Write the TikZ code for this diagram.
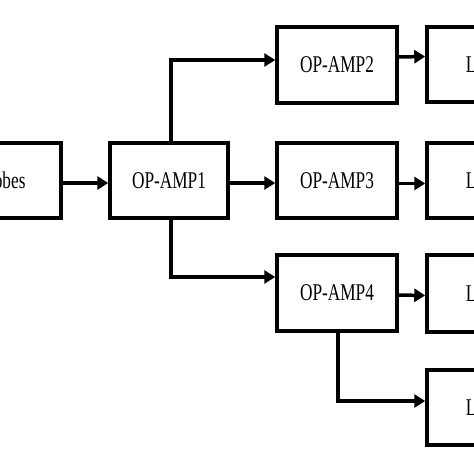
\documentclass[tikz,border=0pt]{standalone}
\usepackage{fontspec}
\setmainfont{Liberation Serif}
\newfontfamily\condfont[FakeStretch=0.72]{Liberation Serif}
\usetikzlibrary{arrows.meta}
\begin{document}
\begin{tikzpicture}[x=1pt,y=-1pt,
  blk/.style={draw=black,line width=3.5pt,minimum width=118pt,minimum height=75pt,inner sep=0pt,font=\condfont\fontsize{24}{26}\selectfont},
  conn/.style={line width=3.5pt,-{Triangle[length=11pt,width=13pt]}}]
\useasboundingbox (0,0) rectangle (474,474);
\clip (0,0) rectangle (474,474);
\fill[white] (0,0) rectangle (474,474);
\node[blk] (src) at (2,180.5) {Probes};
\node[blk] (op1) at (169,180.5) {OP-AMP1};
\node[blk,minimum width=120pt,minimum height=76pt] (op2) at (337,65) {OP-AMP2};
\node[blk,minimum width=120pt] (op3) at (337,180.5) {OP-AMP3};
\node[blk,minimum width=120pt,minimum height=76pt] (op4) at (337,293) {OP-AMP4};
\node[blk,minimum width=120pt] (led1) at (487,64.5) {LED1};
\node[blk,minimum width=120pt] (led2) at (487,180.5) {LED2};
\node[blk,minimum width=120pt,minimum height=77pt] (led3) at (487,293.5) {LED3};
\node[blk,minimum width=120pt] (led4) at (487,407.5) {LED4};
\draw[conn] ([yshift=-2.5pt]src.east) -- ([yshift=-2.5pt]op1.west);
\draw[conn] ([xshift=2pt]op1.north) |- ([yshift=5pt]op2.west);
\draw[conn] ([yshift=-2.5pt]op1.east) -- ([yshift=-2.5pt]op3.west);
\draw[conn] ([xshift=2pt]op1.south) |- ([yshift=16pt]op4.west);
\draw[conn] ([yshift=8pt]op2.east) -- ([yshift=8pt]led1.west);
\draw[conn] ([yshift=-3pt]op3.east) -- ([yshift=-3pt]led2.west);
\draw[conn] ([yshift=-2pt]op4.east) -- ([yshift=-2pt]led3.west);
\draw[conn] ([xshift=1pt]op4.south) |- ([yshift=6.5pt]led4.west);
\end{tikzpicture}
\end{document}
